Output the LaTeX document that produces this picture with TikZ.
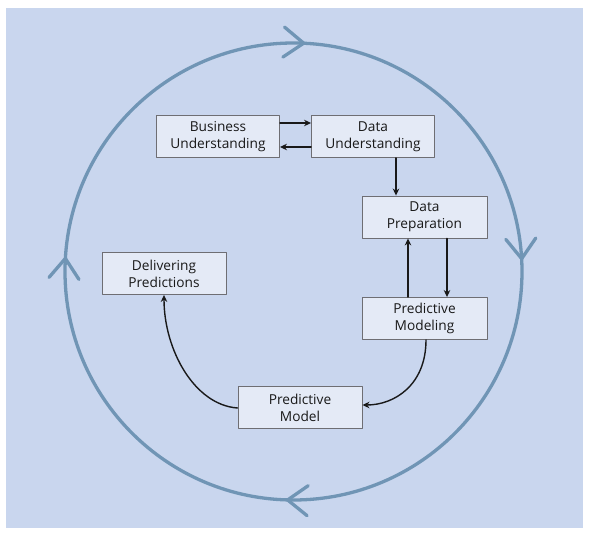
\documentclass[tikz,border=0pt]{standalone}
\usepackage{fontspec}
\setmainfont{Open Sans}
\usetikzlibrary{arrows.meta,decorations.markings}
\definecolor{bgblue}{RGB}{201,214,238}
\definecolor{boxfill}{RGB}{228,234,246}
\definecolor{boxline}{RGB}{110,110,115}
\definecolor{ringblue}{RGB}{112,149,181}
\definecolor{txtgray}{RGB}{25,25,25}
\tikzset{
	stage/.style={draw=boxline,fill=boxfill,line width=0.9pt,minimum width=123pt,minimum height=42pt,
		align=center,text=txtgray,font=\fontsize{13.7}{17}\selectfont,inner sep=2pt},
	flow/.style={->,line width=1.4pt,color=black!90},
	ring/.style={draw=ringblue,line width=3.3pt,postaction={decorate},
		decoration={markings,
			mark=at position 0.256 with {\arrow{chev}},
			mark=at position 0.511 with {\arrow{chev}},
			mark=at position 0.759 with {\arrow{chev}},
			mark=at position 0.993 with {\arrow{chev}}}},
	chev/.tip={Straight Barb[length=20pt,width=30pt,line width=3.3pt,line cap=round]}
}
\begin{document}
\begin{tikzpicture}[line cap=round,line join=round,>={Stealth[length=7pt,width=6.5pt]},x=1pt,y=-1pt]
	\useasboundingbox (0,0) rectangle (592,537);
	\fill[bgblue] (6,8) rectangle (583,528);
	% cycle ring
	\draw[ring] (293.5,271.5) circle (228.5);
	% stages
	\node[stage] (bu) at (218,136.5) {Business\\Understanding};
	\node[stage] (du) at (373,136.5) {Data\\Understanding};
	\node[stage,minimum width=125pt] (dp) at (424.5,217) {Data\\Preparation};
	\node[stage,minimum width=125pt] (pmod) at (424.5,318.5) {Predictive\\Modeling};
	\node[stage,minimum width=124pt] (dlv) at (164,273.5) {Delivering\\Predictions};
	\node[stage,minimum width=124pt] (mdl) at (300,407.5) {Predictive\\Model};
	% connectors
	\draw[flow] ([yshift=13.5pt]bu.east) -- ([yshift=13.5pt]du.west);
	\draw[flow] ([yshift=-10.5pt]du.west) -- ([yshift=-10.5pt]bu.east);
	\draw[flow] ([xshift=23pt]du.south) -- ([xshift=23pt]du.south |- dp.north);
	\draw[flow] ([xshift=-16.5pt]pmod.north) -- ([xshift=-16.5pt]dp.south);
	\draw[flow] ([xshift=22.5pt]dp.south) -- ([xshift=22.5pt]pmod.north);
	\draw[flow] ([xshift=1.5pt]pmod.south) .. controls +(0,45) and +(32,0) .. ([yshift=2.5pt]mdl.east);
	\draw[flow] ([yshift=-0.5pt]mdl.west) .. controls +(-43,-3) and +(0,55) .. (dlv.south);
\end{tikzpicture}
\end{document}
